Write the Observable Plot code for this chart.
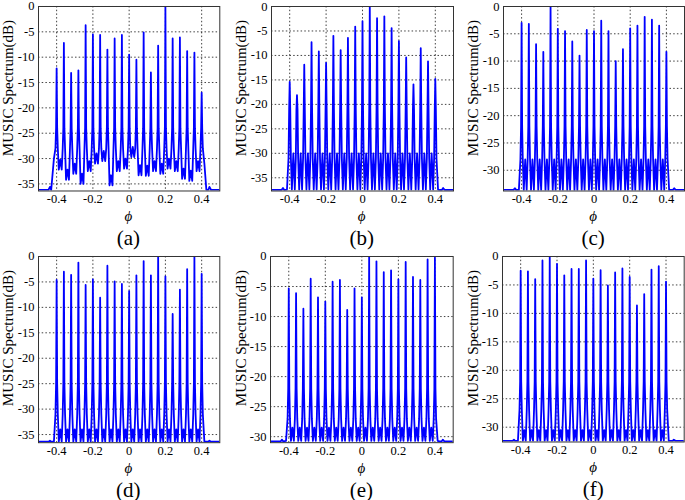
<!DOCTYPE html>
<html><head><meta charset="utf-8">
<script src="https://cdn.jsdelivr.net/npm/d3@7"></script>
<script src="https://cdn.jsdelivr.net/npm/@observablehq/plot@0.6"></script>
<style>
body{margin:0;background:#fff;}
#fig{position:relative;width:685px;height:500px;overflow:hidden;font-family:"Liberation Serif","Times New Roman",serif;color:#000;}
.panel{position:absolute;}
.panel svg{overflow:visible;font-family:"Liberation Serif","Times New Roman",serif !important;}
.panel svg text{font-family:"Liberation Serif","Times New Roman",serif;}
.cap{position:absolute;font-size:21px;transform:translate(-50%,-50%);white-space:nowrap;}
.phi{position:absolute;font-style:italic;font-size:15px;transform:translate(-50%,-50%);}
.ylab{position:absolute;font-size:15px;transform:translate(-50%,-50%) rotate(-90deg);white-space:nowrap;}
</style></head><body><div id="fig"></div>
<script>
// ---- data ----
const peakPhi = [-0.4,-0.36,-0.32,-0.28,-0.24,-0.2,-0.16,-0.12,-0.08,-0.04,0,0.04,0.08,0.12,0.16,0.2,0.24,0.28,0.32,0.36,0.4];
const xTicks = [-0.4,-0.2,0,0.2,0.4];
const yTicks35 = [0,-5,-10,-15,-20,-25,-30,-35];
const yTicks30 = [0,-5,-10,-15,-20,-25,-30];
const captions = ["(a)","(b)","(c)","(d)","(e)","(f)"];

const peaksA = [-12.2,-7.2,-13.1,-12.6,-3.7,-5.5,-5.6,-8.5,-6.3,-5.6,-9.5,-10.5,-5.1,-13.0,-7.7,0,-6.3,-6.1,-8.8,-9.1,-17.0];
const valleysA = [-32.2,-34.2,-33.0,-35.0,-32.5,-31.0,-30.5,-35.3,-32.5,-32.0,-29.7,-33.3,-33.4,-32.5,-33.0,-32.0,-32.5,-34.0,-34.4,-32.5];
const peaksB = [-15.4,-18.1,-11.9,-7.3,-9.2,-11.5,-6.0,-8.9,-6.4,-4.1,-3.0,0,-2.4,-2.0,-4.4,-7.1,-10.4,-15.9,-8.5,-11.2,-14.8];
const peaksC = [-3.0,-3.2,-6.9,-8.3,0,-4.1,-4.5,-6.4,-9.0,-4.3,-4.5,-2.6,-4.5,-10.0,-7.8,-4.0,-3.5,-1.9,-2.4,-3.5,-8.3];
const peaksD = [-4.6,-3.0,-3.6,-1.2,-5.6,-4.5,-8.1,-1.8,-4.9,-5.4,-6.8,-3.7,-0.9,-3.7,0,-3.9,-11.3,-6.5,-2.5,0,-3.4];
const peaksE = [-5.3,-6.1,-8.7,-3.7,-6.8,-7.5,-4.2,-3.9,-8.9,-5.3,-6.8,0,-0.8,-2.6,-2.3,-3.8,-0.9,-3.4,-3.9,-0.5,-0.2];
const peaksF = [-2.5,-2.6,-4.0,-0.7,0,-1.3,-3.3,-2.2,-2.2,-0.7,-3.9,-2.4,-5.1,-2.8,-2.1,-3.6,-8.6,-6.6,-2.3,-1.7,-4.4];

// per-panel levels (dB): axis bottom, flat floor, valley, hump between spikes, spike shoulders
const axisBottom = [-36.4,-37.7,-33.8,-36.6,-31.0,-32.6];
const floorLevel = [-36.2,-37.5,-33.6,-36.4,-30.8,-32.4];
const valleyLevel = [null,-37.4,-33.6,-36.4,-30.7,-32.4];
const humpLevel = [null,-30.0,-28.0,-34.0,-28.5,-30.5];
const shoulderLow = [-28.0,-31.0,-28.0,-31.0,-27.0,-27.0];
const shoulderHigh = [-24.0,-21.0,-22.0,-25.0,-22.0,-22.0];
const edgeBump = [0.6,0.4,0.3,0.2,0.3,0.2];

const allPeaks = [peaksA,peaksB,peaksC,peaksD,peaksE,peaksF];

// ---- curve assembly from read values ----
function buildCurve(k) {
  const peaks = allPeaks[k], fl = floorLevel[k];
  const vAt = i => k === 0 ? valleysA[i] : valleyLevel[k];
  const hAt = i => k === 0 ? valleysA[i] + 2 : humpLevel[k];
  const S = shoulderLow[k], S2 = shoulderHigh[k];
  const pts = [];
  pts.push({x:-0.5,y:fl},{x:-0.445,y:fl},{x:-0.437,y:fl+edgeBump[k]},{x:-0.43,y:fl});
  pts.push({x:-0.415,y:k===0 ? -30 : vAt(0)});
  peakPhi.forEach((p,i) => {
    pts.push({x:p-0.0065,y:S},{x:p-0.003,y:S2},{x:p,y:peaks[i]},{x:p+0.003,y:S2},{x:p+0.0065,y:S});
    if (i < peakPhi.length-1) {
      pts.push({x:p+0.012,y:vAt(i)},{x:p+0.02,y:hAt(i)},{x:p+0.028,y:vAt(i)});
    }
  });
  pts.push({x:0.415,y:k===0 ? -31 : vAt(19)},{x:0.426,y:fl},{x:0.436,y:fl},{x:0.443,y:fl+edgeBump[k]},{x:0.452,y:fl},{x:0.5,y:fl});
  return pts;
}

// ---- layout ----
const frames = [
  [37.7,219,5.5,190],[270.7,452.7,5.5,190],[502.7,683.7,5.5,190],
  [37.7,219,255.5,441.7],[270,452.7,255.5,441.7],[502.3,684,255.5,441]
];
const fig = document.getElementById("fig");
const ML = 38, MT = 6, MB = 30, MR = 1;
const fmt = d => String(d);

frames.forEach(([L,R,T,B],k) => {
  const yTicks = axisBottom[k] <= -35 ? yTicks35 : yTicks30;
  const chart = Plot.plot({
    width: (R-L)+ML+MR, height: (B-T)+MT+MB,
    marginLeft: ML, marginRight: MR, marginTop: MT, marginBottom: MB,
    style: {fontFamily: "Liberation Serif, Times New Roman, serif", fontSize: "12.5px", color: "#000", background: "transparent"},
    x: {domain: [-0.5,0.5], ticks: xTicks, tickFormat: fmt, tickSize: 0, tickPadding: 3, label: null},
    y: {domain: [axisBottom[k],0], ticks: yTicks, tickFormat: fmt, tickSize: 0, tickPadding: 4, label: null},
    marks: [
      Plot.gridX(xTicks, {stroke: "#000", strokeOpacity: 0.75, strokeDasharray: "1.5,2.2"}),
      Plot.gridY(yTicks, {stroke: "#000", strokeOpacity: 0.75, strokeDasharray: "1.5,2.2"}),
      Plot.line(buildCurve(k), {x: "x", y: "y", stroke: "#0000ff", strokeWidth: 1.8, clip: true}),
      Plot.frame({stroke: "#333", strokeWidth: 1})
    ]
  });
  const div = document.createElement("div");
  div.className = "panel";
  div.style.left = (L-ML) + "px";
  div.style.top = (T-MT) + "px";
  div.appendChild(chart);
  fig.appendChild(div);

  const cx = (L+R)/2;
  const yl = document.createElement("div");
  yl.className = "ylab"; yl.textContent = "MUSIC Spectrum(dB)";
  yl.style.left = (L-29.5) + "px"; yl.style.top = (T+82) + "px";
  fig.appendChild(yl);

  const ph = document.createElement("div");
  ph.className = "phi"; ph.textContent = "ϕ";
  ph.style.left = cx + "px"; ph.style.top = (B+26) + "px";
  fig.appendChild(ph);

  const cap = document.createElement("div");
  cap.className = "cap"; cap.textContent = captions[k];
  cap.style.left = cx + "px"; cap.style.top = (B+48) + "px";
  fig.appendChild(cap);
});
</script>
</body></html>
